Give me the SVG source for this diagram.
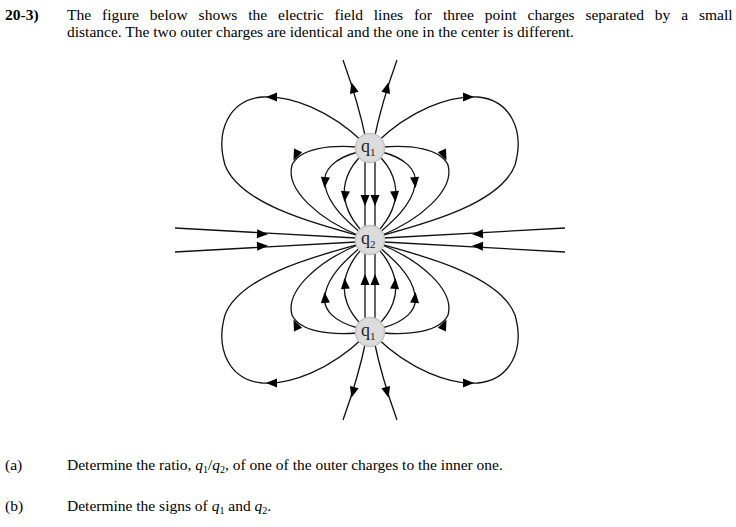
<svg xmlns="http://www.w3.org/2000/svg" xmlns:xlink="http://www.w3.org/1999/xlink" width="736" height="527" viewBox="0 0 736 527">
<style>
text{font-family:"Liberation Serif","Times New Roman",serif;font-size:15.5px;fill:#000}
.b{font-weight:bold}
.f{fill:none;stroke:#111;stroke-width:1.3}
.c{fill:#dcdcdc;stroke:#c4c4c4;stroke-width:1.5}
.q{font-size:18px;fill:#222}
.s{font-size:11px}
.t{font-size:10px}
</style>
<defs>
<path id="ar" d="M6,0 L-5,-4.5 L-5,4.5 Z" fill="#000"/>
<g id="quad">
<path class="f" d="M366,140 C360,110 352,85 343,60"/>
<path class="f" d="M364,143 C330,110 290,95 262,97 C230,100 215,130 225,165 C240,205 320,225 360,236"/>
<path class="f" d="M357,147 C330,145 300,148 292,165 C285,190 320,220 360,236"/>
<path class="f" d="M358,152 C335,158 322,170 325,185 C328,205 348,222 362,234"/>
<path class="f" d="M362,155 C348,168 342,185 345,200 C348,215 358,228 365,234"/>
<path class="f" d="M365,156 L365,232"/>
<path class="f" d="M175,228 L356,238"/>
<use xlink:href="#ar" transform="translate(353,88) rotate(-105)"/>
<use xlink:href="#ar" transform="translate(272,97) rotate(180)"/>
<use xlink:href="#ar" transform="translate(296,155) rotate(115)"/>
<use xlink:href="#ar" transform="translate(325,182) rotate(95)"/>
<use xlink:href="#ar" transform="translate(345,196) rotate(95)"/>
<use xlink:href="#ar" transform="translate(365,200) rotate(90)"/>
<use xlink:href="#ar" transform="translate(262,234) rotate(3)"/>
</g>
</defs>
<text class="b" x="5" y="20">20-3)</text>
<text x="67" y="20" word-spacing="7">The figure below shows the electric field lines for three point charges separated by a small</text>
<text x="67" y="37">distance.  The two outer charges are identical and the one in the center is different.</text>
<g id="connectors">
<use xlink:href="#quad"/>
<use xlink:href="#quad" transform="translate(740,0) scale(-1,1)"/>
<use xlink:href="#quad" transform="translate(0,480) scale(1,-1)"/>
<use xlink:href="#quad" transform="translate(740,480) scale(-1,-1)"/>
</g>
<g id="q1top"><circle class="c" cx="370" cy="148" r="14.5"/><text class="q" x="361" y="152">q<tspan class="s" dy="4">1</tspan></text></g>
<g id="q2"><circle class="c" cx="370" cy="240" r="14.5"/><text class="q" x="361" y="244">q<tspan class="s" dy="4">2</tspan></text></g>
<g id="q1bot"><circle class="c" cx="370" cy="332" r="14.5"/><text class="q" x="361" y="336">q<tspan class="s" dy="4">1</tspan></text></g>
<text x="5" y="470">(a)</text>
<text x="67" y="470">Determine the ratio, <tspan font-style="italic">q</tspan><tspan class="t" dy="3">1</tspan><tspan dy="-3">/</tspan><tspan font-style="italic">q</tspan><tspan class="t" dy="3">2</tspan><tspan dy="-3">, of one of the outer charges to the inner one.</tspan></text>
<text x="5" y="511">(b)</text>
<text x="67" y="511">Determine the signs of <tspan font-style="italic">q</tspan><tspan class="t" dy="3">1</tspan><tspan dy="-3"> and </tspan><tspan font-style="italic">q</tspan><tspan class="t" dy="3">2</tspan><tspan dy="-3">.</tspan></text>
</svg>
